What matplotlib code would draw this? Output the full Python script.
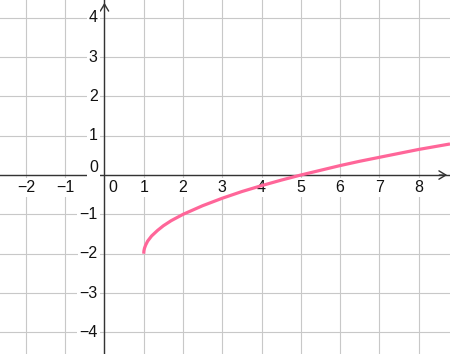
import matplotlib.pyplot as plt

# points
curve_x = [1, 1.005, 1.02, 1.05, 1.1, 1.2, 1.35, 1.5, 1.7, 2, 2.5, 3, 3.5, 4, 4.5, 5, 5.5, 6, 6.5, 7, 7.5, 8, 8.8]
curve_y = [-2, -1.93, -1.86, -1.78, -1.68, -1.55, -1.41, -1.29, -1.16, -1, -0.78, -0.59, -0.42, -0.27, -0.13, 0, 0.12, 0.24, 0.35, 0.45, 0.55, 0.65, 0.79]

x_ticks = [-2, -1, 1, 2, 3, 4, 5, 6, 7, 8]
y_ticks = [-4, -3, -2, -1, 1, 2, 3, 4]
x_min, x_max = -2.66, 8.8
y_min, y_max = -4.55, 4.45

fig = plt.figure(figsize=(4.5, 3.54), dpi=100)
ax = fig.add_axes([0, 0, 1, 1])
ax.set_xlim(x_min, x_max)
ax.set_ylim(y_min, y_max)
ax.axis("off")

grid_c = "#c8c8c8"
axis_c = "#333333"
for gx in range(-2, 9):
    ax.axvline(gx, color=grid_c, lw=0.8, zorder=1)
for gy in range(-4, 5):
    ax.axhline(gy, color=grid_c, lw=0.8, zorder=1)

ax.axhline(0, color=axis_c, lw=1, zorder=2)
ax.axvline(0, color=axis_c, lw=1, zorder=2)

# arrow heads at axis ends
ax.annotate("", xy=(1.0, (0 - y_min) / (y_max - y_min)), xytext=(0.97, (0 - y_min) / (y_max - y_min)),
            xycoords="axes fraction",
            arrowprops=dict(arrowstyle="->,head_length=0.5,head_width=0.3", color=axis_c, lw=1))
ax.annotate("", xy=((0 - x_min) / (x_max - x_min), 1.0), xytext=((0 - x_min) / (x_max - x_min), 0.97),
            xycoords="axes fraction",
            arrowprops=dict(arrowstyle="->,head_length=0.5,head_width=0.3", color=axis_c, lw=1))

font = dict(family="Liberation Sans", fontsize=11.5, color="#111111", zorder=3)
box = dict(facecolor="white", edgecolor="none", pad=1.5)
for t in x_ticks:
    ax.text(t, -0.13, f"{t}".replace("-", "\u2212"), ha="center", va="top", bbox=box, **font)
ax.text(0.22, -0.13, "0", ha="center", va="top", bbox=box, **font)
for t in y_ticks:
    ax.text(-0.17, t, f"{t}".replace("-", "\u2212"), ha="right", va="center", bbox=box, **font)
ax.text(-0.17, 0.2, "0", ha="right", va="center", bbox=box, **font)

ax.plot(curve_x, curve_y, color="#ff6699", lw=2.3, solid_capstyle="butt", zorder=4)

fig.savefig("out.png", dpi=100)
